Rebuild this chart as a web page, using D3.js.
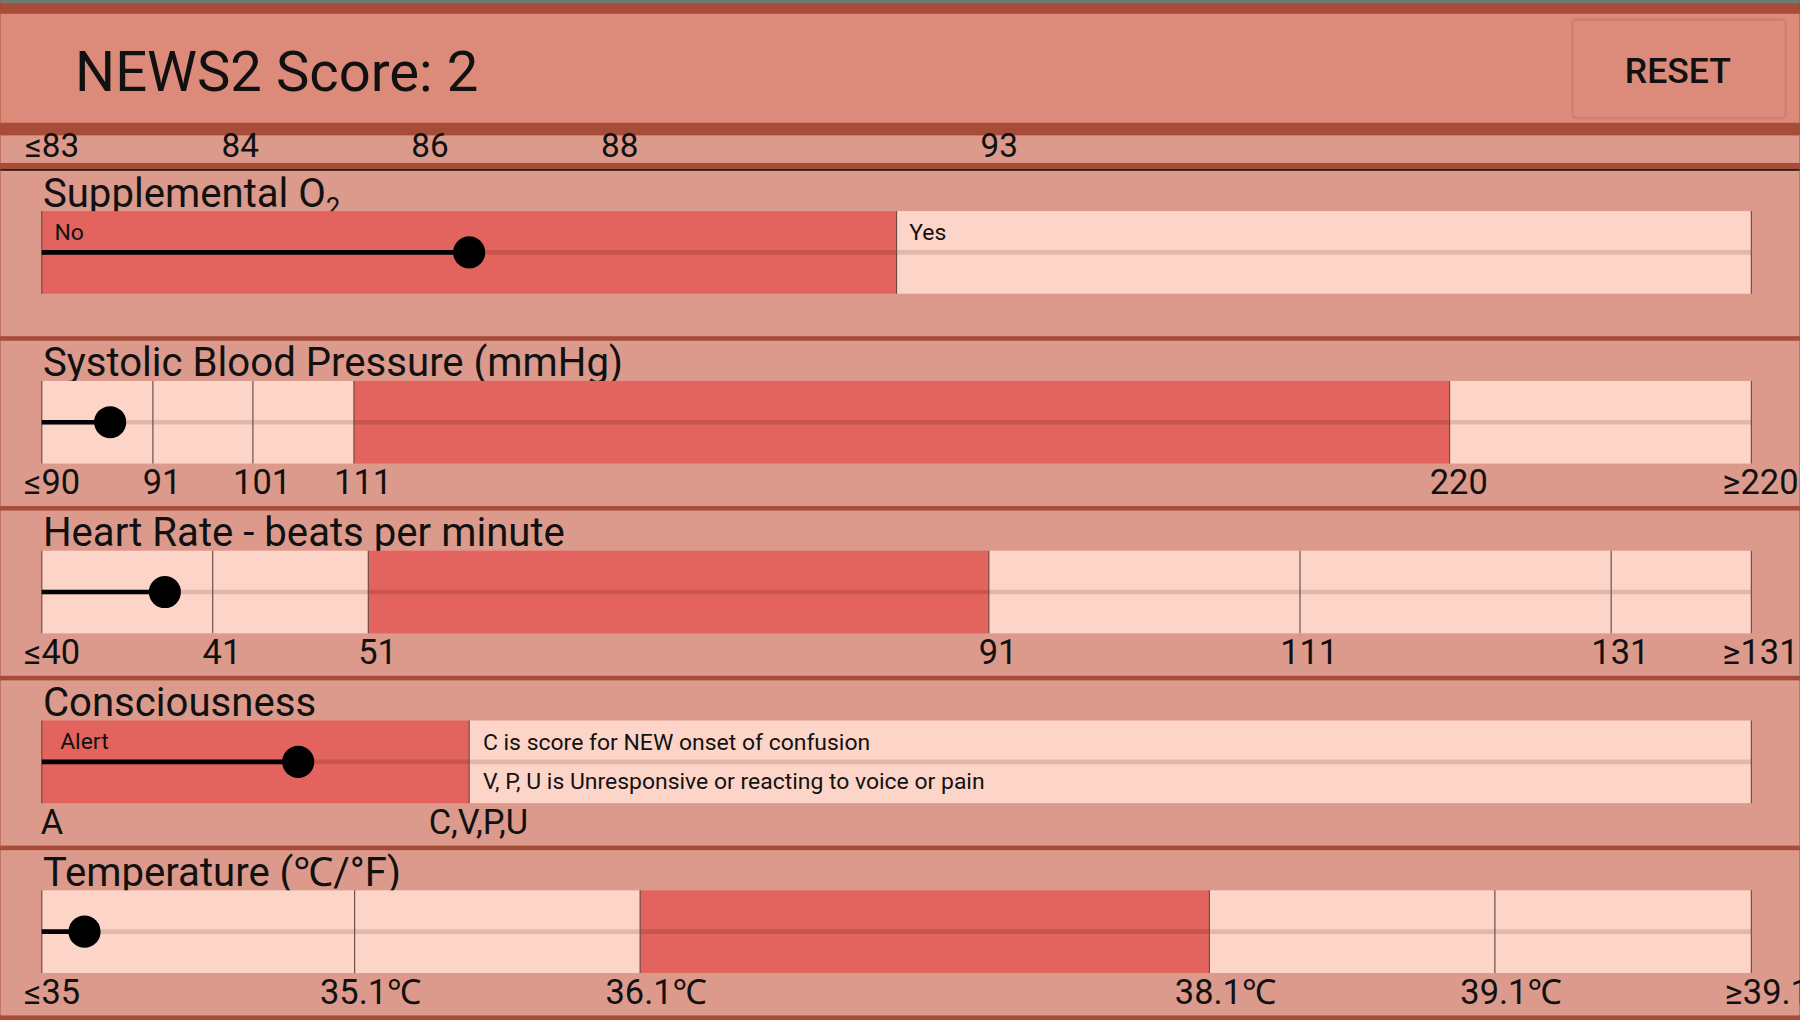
<!DOCTYPE html>
<html>
<head>
<meta charset="utf-8">
<script src="https://cdnjs.cloudflare.com/ajax/libs/d3/7.8.5/d3.min.js"></script>
<style>
	body { margin: 0; background: #a84c3a; overflow: hidden; }
	text { font-family: Roboto, "Noto Sans", sans-serif; fill: #111; }
</style>
</head>
<body>
<svg id="chart"></svg>
<script>

// breaks are fractions of the bar width, red = index of the scoring-0 segment
var spo2Breaks   = [0, 0.110, 0.221, 0.332, 0.554];
var spo2Labels   = ["≤83", "84", "86", "88", "93"];

var rowTitles    = ["Supplemental O", "Systolic Blood Pressure (mmHg)", "Heart Rate - beats per minute", "Consciousness", "Temperature (℃/°F)"];

var o2Breaks     = [0, 0.5, 1];
var sbpBreaks    = [0, 0.065, 0.1235, 0.1826, 0.8235, 1];
var hrBreaks     = [0, 0.100, 0.191, 0.554, 0.736, 0.918, 1];
var consBreaks   = [0, 0.25, 1];
var tempBreaks   = [0, 0.183, 0.350, 0.683, 0.850, 1];

var o2Labels     = [];
var sbpLabels    = ["≤90", "91", "101", "111", "220", "≥220"];
var hrLabels     = ["≤40", "41", "51", "91", "111", "131", "≥131"];
var consLabels   = ["A", "C,V,P,U"];
var tempLabels   = ["≤35", "35.1℃", "36.1℃", "38.1℃", "39.1℃", "≥39.1"];

var redSegment   = [0, 3, 2, 0, 2];
var knobValues   = [0.25, 0.04, 0.072, 0.15, 0.025];

var o2Texts      = ["No", "Yes"];
var consTexts    = ["Alert", "C is score for NEW onset of confusion", "V, P, U is Unresponsive or reacting to voice or pain"];

var score = 2;

var W = 1568, H = 889;
var svg = d3.select("#chart")
	.attr("width", 1800)
	.attr("height", 1020)
	.attr("viewBox", "0 0 " + W + " " + H);

var red = "#e3645e", light = "#fdd5c8", sectionBg = "#dc9a8c", dark = "#a84c3a";

svg.append("rect").attr("width", W).attr("height", H).attr("fill", dark);
svg.append("rect").attr("width", W).attr("height", 3).attr("fill", "#6e7a74");

// header
svg.append("rect").attr("x", 0).attr("y", 12).attr("width", W).attr("height", 95).attr("fill", "#dc8a7a");
svg.append("text").attr("x", 65).attr("y", 79).attr("font-size", 49).text("NEWS2 Score: " + score);
svg.append("rect").attr("x", 1370).attr("y", 17).attr("width", 186).attr("height", 86).attr("rx", 4)
	.attr("fill", "#dc8a7a").attr("stroke", "#d07e6e").attr("stroke-width", 2);
svg.append("text").attr("x", 1462).attr("y", 72).attr("text-anchor", "middle")
	.attr("font-size", 31).attr("font-weight", 500).attr("fill", "#221").text("RESET");

var x = d3.scaleLinear().domain([0, 1]).range([36, 1526]);

// spo2 remnant row
svg.append("rect").attr("x", 0).attr("y", 118).attr("width", W).attr("height", 24).attr("fill", sectionBg);
svg.append("g").selectAll("text").data(spo2Labels).join("text")
	.attr("x", function(d, i) { return x(spo2Breaks[i]) + 9; })
	.attr("y", 137).attr("text-anchor", "middle").attr("font-size", 29)
	.text(function(d) { return d; });
svg.append("line").attr("x1", 0).attr("x2", W).attr("y1", 148).attr("y2", 148).attr("stroke", "#222").attr("stroke-width", 1.5);

var rows = [
	{ breaks: o2Breaks,   labels: o2Labels },
	{ breaks: sbpBreaks,  labels: sbpLabels },
	{ breaks: hrBreaks,   labels: hrLabels },
	{ breaks: consBreaks, labels: consLabels },
	{ breaks: tempBreaks, labels: tempLabels }
];

var rowTop = 149, rowH = 148;

rows.forEach(function(row, r) {
	var top = rowTop + r * rowH;
	var g = svg.append("g").attr("transform", "translate(0," + top + ")");

	g.append("rect").attr("width", W).attr("height", rowH - 4).attr("fill", sectionBg);

	var title = g.append("text").attr("x", 37).attr("y", 31).attr("font-size", 35).text(rowTitles[r]);
	if (r === 0) title.append("tspan").attr("font-size", 22).attr("dy", 8).text("2");

	var barY = 35, barH = 72;
	var segs = d3.pairs(row.breaks);
	g.selectAll("rect.seg").data(segs).join("rect")
		.attr("class", "seg")
		.attr("x", function(d) { return x(d[0]); })
		.attr("width", function(d) { return x(d[1]) - x(d[0]); })
		.attr("y", barY).attr("height", barH)
		.attr("fill", function(d, i) { return i === redSegment[r] ? red : light; });

	// midline
	g.selectAll("line.mid").data(segs).join("line")
		.attr("x1", function(d) { return x(d[0]); })
		.attr("x2", function(d) { return x(d[1]); })
		.attr("y1", barY + barH / 2).attr("y2", barY + barH / 2)
		.attr("stroke", function(d, i) { return i === redSegment[r] ? "#c9554f" : "#e0b8ab"; })
		.attr("stroke-width", 4);

	// dividers
	g.selectAll("line.div").data(row.breaks).join("line")
		.attr("x1", function(d) { return x(d); }).attr("x2", function(d) { return x(d); })
		.attr("y1", barY).attr("y2", barY + barH)
		.attr("stroke", "#6a4a44").attr("stroke-width", 1);

	// tick labels
	g.selectAll("text.lab").data(row.labels).join("text")
		.attr("x", function(d, i) {
			if (i === 0) return x(0) + 9;
			return x(row.breaks[i]) + (r === 4 ? 14 : 8);
		})
		.attr("y", 134).attr("text-anchor", "middle").attr("font-size", 30)
		.text(function(d) { return d; });

	// knob
	g.append("line").attr("x1", x(0)).attr("x2", x(knobValues[r]))
		.attr("y1", barY + barH / 2).attr("y2", barY + barH / 2)
		.attr("stroke", "#000").attr("stroke-width", 4);
	g.append("circle").attr("cx", x(knobValues[r])).attr("cy", barY + barH / 2).attr("r", 14).attr("fill", "#000");

	if (r === 0) {
		g.append("text").attr("x", x(0) + 11).attr("y", barY + 25).attr("font-size", 20).text(o2Texts[0]);
		g.append("text").attr("x", x(o2Breaks[1]) + 11).attr("y", barY + 25).attr("font-size", 20).text(o2Texts[1]);
	}
	if (r === 3) {
		g.append("text").attr("x", x(0) + 16).attr("y", barY + 25).attr("font-size", 20).text(consTexts[0]);
		g.append("text").attr("x", x(consBreaks[1]) + 12).attr("y", barY + 26).attr("font-size", 20).text(consTexts[1]);
		g.append("text").attr("x", x(consBreaks[1]) + 12).attr("y", barY + 60).attr("font-size", 20).text(consTexts[2]);
	}
});

</script>
</body>
</html>
